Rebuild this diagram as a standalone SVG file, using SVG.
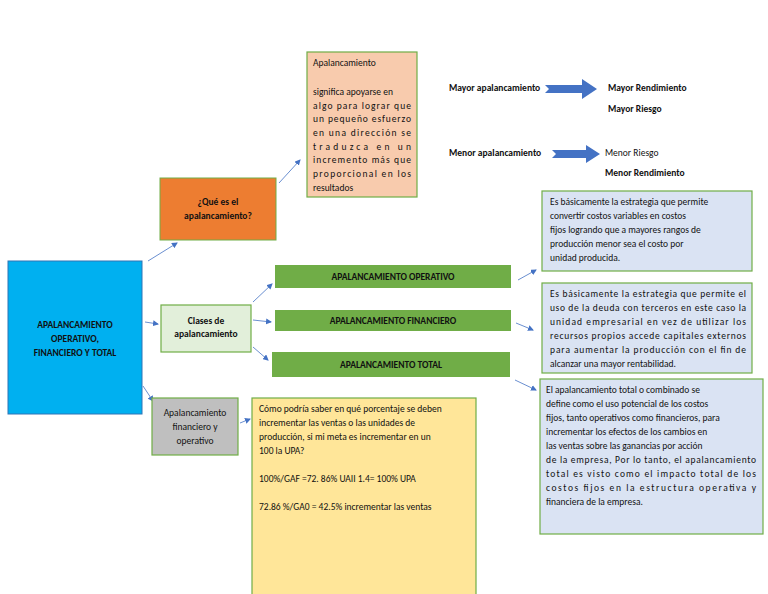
<svg xmlns="http://www.w3.org/2000/svg" width="768" height="594" viewBox="0 0 768 594">
<defs>
<marker id="ah" markerWidth="6" markerHeight="6" refX="5" refY="3" orient="auto" markerUnits="userSpaceOnUse"><path d="M0,0 L6,3 L0,6 z" fill="#4472c4"/></marker>
<style>
text{font-family:Calibri,"Liberation Sans",Arial,sans-serif;font-size:9.5px;fill:#111}
.b{font-weight:bold}
.c{text-anchor:middle}
.bx{stroke:#70ad47;stroke-width:1.2}
.ln{stroke:#4472c4;stroke-width:0.8;fill:none;marker-end:url(#ah)}
</style>
</defs>
<rect width="768" height="594" fill="#fff"/>
<g id="connectors">
<line class="ln" x1="148" y1="261" x2="177" y2="243"/>
<line class="ln" x1="279" y1="183" x2="300" y2="160"/>
<line class="ln" x1="145" y1="322" x2="158" y2="324"/>
<line class="ln" x1="143" y1="386" x2="153" y2="401"/>
<line class="ln" x1="253" y1="302" x2="272" y2="284"/>
<line class="ln" x1="253" y1="320" x2="271" y2="322"/>
<line class="ln" x1="253" y1="347" x2="268" y2="360"/>
<line class="ln" x1="518" y1="280" x2="536" y2="270"/>
<line class="ln" x1="516" y1="323" x2="533" y2="330"/>
<line class="ln" x1="515" y1="380" x2="536" y2="390"/>
<line class="ln" x1="240" y1="423" x2="250" y2="419"/>
<path d="M545,85 L582,85 L582,79 L597,89 L582,99 L582,93 L545,93 L549,89 z" fill="#4472c4"/>
<path d="M552,150 L586,150 L586,145 L600,154 L586,163 L586,158 L552,158 L556,154 z" fill="#4472c4"/>
</g>
<g id="main"><rect x="8" y="261" width="134" height="153" fill="#00b0f0" stroke="#2e75b6"/>
<text class="b c" x="75" y="328">APALANCAMIENTO</text><text class="b c" x="75" y="342">OPERATIVO,</text><text class="b c" x="75" y="356">FINANCIERO Y TOTAL</text></g>
<g id="que"><rect x="160" y="178" width="116" height="62" fill="#ed7d31" stroke="#70ad47"/>
<text class="b c" x="218" y="205">¿Qué es el</text><text class="b c" x="218" y="219">apalancamiento?</text></g>
<g id="clases"><rect x="161" y="305" width="90" height="47" class="bx" fill="#e2efda"/>
<text class="b c" x="206" y="324">Clases de</text><text class="b c" x="206" y="337">apalancamiento</text></g>
<g id="finop"><rect x="152" y="398" width="86" height="57" class="bx" fill="#bfbfbf"/>
<text class="c" x="195" y="416">Apalancamiento</text><text class="c" x="195" y="430">financiero y</text><text class="c" x="195" y="444">operativo</text></g>
<g id="def"><rect x="307" y="52" width="110" height="145" class="bx" fill="#f8cbad"/>
<text x="313" y="66">Apalancamiento</text>
<text x="313" y="95">significa apoyarse en</text>
<text x="313" y="109" textLength="98">algo para lograr que</text>
<text x="313" y="122" textLength="98">un pequeño esfuerzo</text>
<text x="313" y="136" textLength="98">en una dirección se</text>
<text x="313" y="150" textLength="98">traduzca    en    un</text>
<text x="313" y="163" textLength="98">incremento más que</text>
<text x="313" y="177" textLength="98">proporcional en los</text>
<text x="313" y="191">resultados</text></g>
<g id="mayor"><text class="b" x="449" y="91">Mayor apalancamiento</text>
<text class="b" x="608" y="91">Mayor Rendimiento</text><text class="b" x="608" y="112">Mayor Riesgo</text></g>
<g id="menor"><text class="b" x="449" y="156">Menor apalancamiento</text>
<text x="605" y="156">Menor Riesgo</text><text class="b" x="605" y="176">Menor Rendimiento</text></g>
<g id="op"><rect x="275" y="265" width="236" height="23" fill="#70ad47"/><text class="b c" x="393" y="280">APALANCAMIENTO OPERATIVO</text></g>
<g id="fin"><rect x="275" y="310" width="236" height="21" fill="#70ad47"/><text class="b c" x="393" y="324">APALANCAMIENTO FINANCIERO</text></g>
<g id="tot"><rect x="272" y="352" width="238" height="25" fill="#70ad47"/><text class="b c" x="391" y="368">APALANCAMIENTO TOTAL</text></g>
<g id="dop"><rect x="542" y="191" width="210" height="80" class="bx" fill="#dae3f3"/>
<text x="550" y="205">Es básicamente la estrategia que permite</text>
<text x="550" y="219">convertir costos variables en costos</text>
<text x="550" y="233">fijos logrando que a mayores rangos de</text>
<text x="550" y="247">producción menor sea el costo por</text>
<text x="550" y="261">unidad producida.</text></g>
<g id="dfin"><rect x="542" y="283" width="210" height="90" class="bx" fill="#dae3f3"/>
<text x="550" y="297" textLength="196">Es básicamente la estrategia que permite el</text>
<text x="550" y="311" textLength="196">uso de la deuda con terceros en este caso la</text>
<text x="550" y="325" textLength="196">unidad empresarial en vez de utilizar los</text>
<text x="550" y="339" textLength="196">recursos propios accede capitales externos</text>
<text x="550" y="353" textLength="196">para aumentar la producción con el fin de</text>
<text x="550" y="367">alcanzar una mayor rentabilidad.</text></g>
<g id="dtot"><rect x="540" y="379" width="223" height="155" class="bx" fill="#dae3f3"/>
<text x="546" y="393">El apalancamiento total o combinado se</text>
<text x="546" y="407">define como el uso potencial de los costos</text>
<text x="546" y="421">fijos, tanto operativos como financieros, para</text>
<text x="546" y="435">incrementar los efectos de los cambios en</text>
<text x="546" y="449">las ventas sobre las ganancias por acción</text>
<text x="546" y="463" textLength="210">de la empresa, Por lo tanto, el apalancamiento</text>
<text x="546" y="477" textLength="210">total es visto como el impacto total de los</text>
<text x="546" y="491" textLength="210">costos fijos en la estructura operativa y</text>
<text x="546" y="505">financiera de la empresa.</text></g>
<g id="calc"><rect x="252" y="398" width="224" height="200" class="bx" fill="#ffe699"/>
<text x="259" y="412">Cómo podría saber en qué porcentaje se deben</text>
<text x="259" y="426">incrementar las ventas o las unidades de</text>
<text x="259" y="440">producción, si mi meta es incrementar en un</text>
<text x="259" y="454">100 la UPA?</text>
<text x="259" y="482">100%/GAF =72. 86% UAII 1.4= 100% UPA</text>
<text x="259" y="510">72.86 %/GA0 = 42.5% incrementar las ventas</text></g>
</svg>
